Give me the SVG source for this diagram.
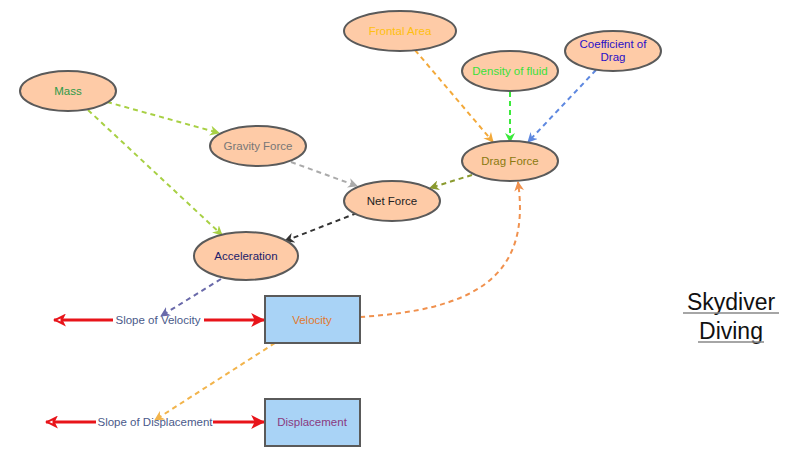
<svg xmlns="http://www.w3.org/2000/svg" width="800" height="457" viewBox="0 0 800 457">
<style>
.n ellipse{fill:#fecba7;stroke:#5a5a5a;stroke-width:2}
.n rect{fill:#a9d3f6;stroke:#5a5a5a;stroke-width:2}
text{font-family:"Comic Sans MS","Liberation Sans","DejaVu Sans",sans-serif;font-size:11.5px;text-anchor:middle}
.c path{fill:none;stroke-width:2;stroke-dasharray:5,4}
.c path.red{fill:none;stroke:#e8141a;stroke-width:3;stroke-dasharray:none}
.t{font-size:23px}
</style>
<defs>
<marker id="ag" viewBox="0 0 10 10" refX="9" refY="5" markerWidth="10" markerHeight="10" markerUnits="userSpaceOnUse" orient="auto"><path d="M0,0 L10,5 L0,10 L3,5 Z" fill="context-stroke"/></marker>
<marker id="rf" viewBox="0 0 12 12" refX="11" refY="6" markerWidth="14" markerHeight="14" markerUnits="userSpaceOnUse" orient="auto"><path d="M0,0 L12,6 L0,12 L3,6 Z" fill="#e8141a"/></marker>
<marker id="rh" viewBox="0 0 12 12" refX="11" refY="6" markerWidth="13" markerHeight="13" markerUnits="userSpaceOnUse" orient="auto"><path d="M0,0 L12,6 L0,12 L3,6 Z" fill="#e8141a"/><path d="M5,4.6 L8,6 L5,7.4 Z" fill="#fff"/></marker>
</defs>
<g class="c" id="connectors">
<path d="M107,102 L219,133" stroke="#a8d044" marker-end="url(#ag)"/>
<path d="M88,110 L222,235" stroke="#a8d044" marker-end="url(#ag)"/>
<path d="M291,162 L357,186" stroke="#aaaaaa" marker-end="url(#ag)"/>
<path d="M357,213 L285,241" stroke="#333333" marker-end="url(#ag)"/>
<path d="M415,50 L493,142" stroke="#f3a93a" marker-end="url(#ag)"/>
<path d="M510,92 L510,142" stroke="#3bea3b" marker-end="url(#ag)"/>
<path d="M596,70 L528,142" stroke="#5e88e0" marker-end="url(#ag)"/>
<path d="M472,175 L430,188" stroke="#8a9a2e" marker-end="url(#ag)"/>
<path d="M221,279 L161,316" stroke="#6a6aaa" marker-end="url(#ag)"/>
<path d="M360,317 C470,310 532,280 518,182" stroke="#f0914e" marker-end="url(#ag)"/>
<path d="M275,343 L155,420" stroke="#f2b44c" marker-end="url(#ag)"/>
<path class="red" d="M113,320 L54,320" marker-end="url(#rh)"/>
<path class="red" d="M204,320 L264,320" marker-end="url(#rf)"/>
<path class="red" d="M96,422 L46,422" marker-end="url(#rh)"/>
<path class="red" d="M213,422 L264,422" marker-end="url(#rf)"/>
<text x="158" y="324" fill="#4a5a8a">Slope of Velocity</text>
<text x="155" y="426" fill="#4a5a8a">Slope of Displacement</text>
</g>
<g class="n" id="mass"><ellipse cx="68" cy="91" rx="48" ry="20"/><text x="68" y="95" fill="#2e9a48">Mass</text></g>
<g class="n" id="gravity"><ellipse cx="258" cy="146" rx="48" ry="20"/><text x="258" y="150" fill="#777777">Gravity Force</text></g>
<g class="n" id="net"><ellipse cx="392" cy="201" rx="48" ry="20"/><text x="392" y="205" fill="#222222">Net Force</text></g>
<g class="n" id="frontal"><ellipse cx="400" cy="31" rx="56" ry="20"/><text x="400" y="35" fill="#ffbf10">Frontal Area</text></g>
<g class="n" id="density"><ellipse cx="510" cy="71" rx="48" ry="20"/><text x="510" y="75" fill="#3be03b">Density of fluid</text></g>
<g class="n" id="coef"><ellipse cx="613" cy="51" rx="48" ry="20"/><text x="613" y="48" fill="#2a10c8">Coefficient of</text><text x="613" y="61" fill="#2a10c8">Drag</text></g>
<g class="n" id="drag"><ellipse cx="510" cy="161" rx="48" ry="20"/><text x="510" y="165" fill="#8a7a10">Drag Force</text></g>
<g class="n" id="accel"><ellipse cx="246" cy="256" rx="52" ry="24"/><text x="246" y="260" fill="#1c1c6a">Acceleration</text></g>
<g class="n" id="velocity"><rect x="265" y="296" width="95" height="47"/><text x="312" y="324" fill="#e07a30">Velocity</text></g>
<g class="n" id="displacement"><rect x="265" y="399" width="95" height="47"/><text x="312" y="426" fill="#8a3a80">Displacement</text></g>
<g id="title">
<text class="t" x="731" y="310" fill="#111">Skydiver</text>
<text class="t" x="731" y="339" fill="#111">Diving</text>
<line x1="683" y1="313" x2="779" y2="313" stroke="#888" stroke-width="1.5"/>
<line x1="698" y1="342" x2="764" y2="342" stroke="#888" stroke-width="1.5"/>
</g>
</svg>
